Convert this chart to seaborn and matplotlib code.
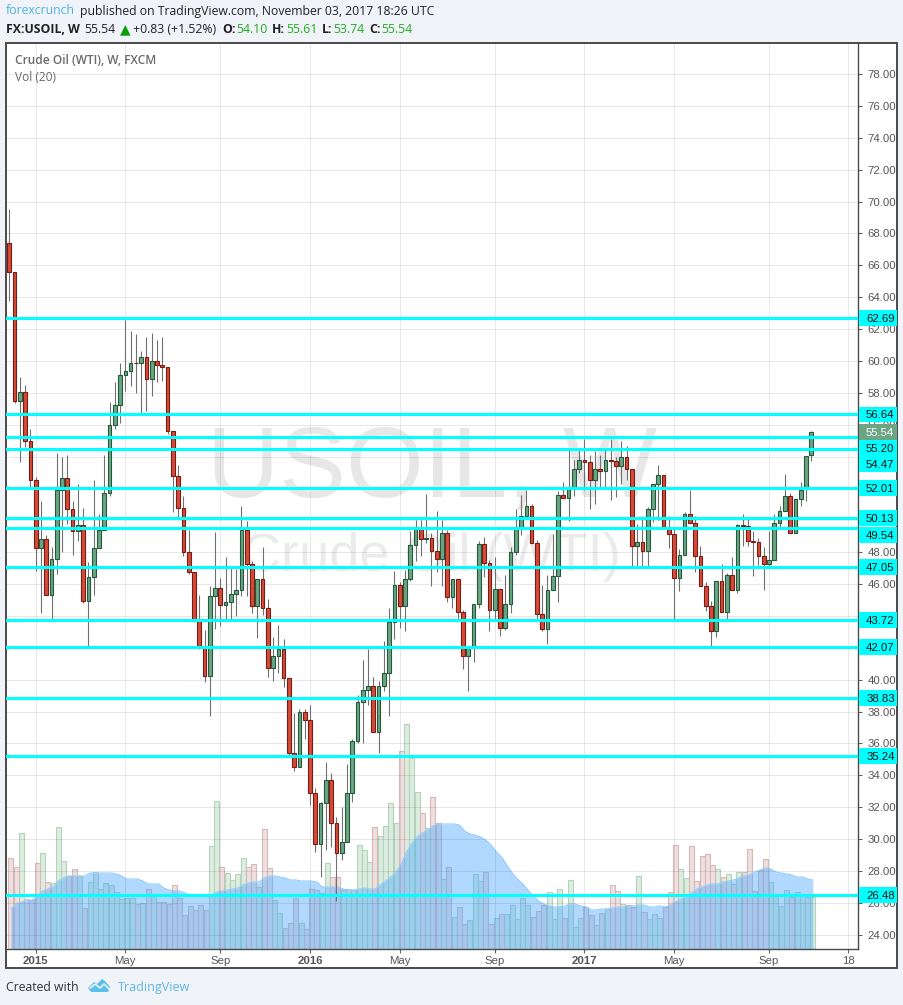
import numpy as np
import pandas as pd
import seaborn as sns
import matplotlib
matplotlib.use("Agg")
import matplotlib.pyplot as plt
from matplotlib.patches import Rectangle, Polygon
from matplotlib.lines import Line2D
from matplotlib import transforms

# weekly candles, Dec 2014 - Oct 2017
opens = [67.39,65.57,57.5,58.06,54.99,52.55,48.26,48.8,45.3,47.6,51.92,52.67,50.7,49.3,49.7,44.93,46.43,48.25,49.4,51.7,
         56,57.25,59.1,59.37,59.87,59.87,60.25,58.87,60,59.75,59.62,55.6,52.8,50.75,48.04,46.75,43.7,42.13,40.23,45.25,
         45.75,44.68,44.87,45.37,45.62,49.38,47.25,44.6,46.3,44.5,40.73,41.5,41.93,40.1,35.4,34.55,38,37.5,32.9,29.7,
         32.26,33.7,31,29.13,29.8,32.9,36.15,38.58,39.34,39.6,36.7,39.6,40.4,43.64,45.97,44.6,46.3,48.48,49.44,48.8,
         48.92,48.1,47.6,49.23,45.22,46.29,44.22,41.47,41.97,44.72,48.54,47.35,44.35,45.66,43.22,44.72,48,49.44,50.3,50.92,
         48.58,44.1,43.16,45.6,46.48,51.6,51.4,51.95,53.2,53.8,53.66,52.5,53.2,53.1,53.8,53.72,53.38,53.97,53.24,48.36,
         48.63,48.1,50.73,52.3,52.87,49.57,49.15,46.4,47.8,50.4,49.85,47.77,45.88,44.6,43.05,46.2,44.27,46.57,45.63,49.72,
         49.62,48.71,48.65,47.77,47.27,47.52,49.85,50.6,51.55,49.2,51.36,52.0,54.1]
closes = [65.57,57.5,58.06,54.99,52.55,48.26,48.8,45.3,47.6,51.92,52.67,50.7,49.3,49.7,44.93,46.43,48.25,49.4,51.7,56,
          57.25,59.1,59.37,59.87,59.85,60.25,58.87,60,59.75,59.62,55.6,52.8,50.75,48.04,46.75,43.7,42.13,40.23,45.25,45.75,
          44.68,44.87,45.37,45.62,49.38,47.25,44.6,46.3,44.5,40.73,41.5,41.93,40.1,35.4,34.55,38,37.5,32.9,29.7,32.26,
          33.7,31,29.13,29.8,32.9,36.15,38.58,39.34,39.6,36.7,39.6,40.4,43.64,45.97,44.6,46.3,48.48,49.44,48.8,48.92,
          48.1,47.6,49.23,45.22,46.29,44.22,41.47,41.97,44.72,48.54,47.35,44.35,45.66,43.22,44.72,48,49.44,50.3,50.92,48.58,
          44.1,43.16,45.6,46.48,51.6,51.4,51.95,53.2,53.8,53.66,52.5,53.2,53.1,53.8,53.72,53.38,53.97,53.24,48.36,48.63,
          48.1,50.73,52.3,52.87,49.57,49.15,46.4,47.8,50.4,49.85,47.77,45.88,44.6,43.05,46.2,44.27,46.57,45.63,49.72,49.62,
          48.71,48.65,47.77,47.27,47.52,49.85,50.6,51.55,49.2,51.36,51.9,54.03,55.54]
highs = [69.5,65.57,59,58.5,55.7,52.7,51.2,49.1,48.3,54.2,53.95,54.1,51.2,52.3,50.75,47.4,52.5,50.4,54.1,57.4,
         58.65,59.85,62.57,61.9,61.7,60.65,61.5,61.77,61.3,61.5,59.62,55.6,53.5,51.5,49.4,46.75,45.33,43.13,45.87,49.27,
         46.4,47.7,47.14,46.93,50.9,49.96,47.46,46.3,48.33,45.08,42.7,43.45,42.57,40.1,37.9,38.15,38.15,38.4,33.2,32.3,
         34.85,34.16,31.4,32.03,34.7,36.3,39.04,41.24,41.9,40.15,39.9,42.42,44.5,46.8,46.16,46.9,49.3,50,50,51.67,
         49.23,50.57,50,49.4,46.29,46.29,44.37,41.97,44.78,48.73,48.98,47.48,47.73,45.66,46.56,48.33,50.73,51.57,51.92,51,
         48.75,45.93,46.54,49.17,51.82,52.4,54.4,53.76,54.4,55.1,54.1,54.35,54.1,54.4,55.13,54,55,54.65,53.24,49.8,
         50.3,50.85,52.3,53.5,52.87,50.3,49.6,48.2,50.5,51.9,50.3,48.4,46.1,44.96,46.2,47.27,46.7,47.73,49.8,50.4,
         50.1,49.35,48.9,48.3,49.3,50.4,50.9,52.9,51.7,51.36,52.4,54.03,55.61]
lows = [63.74,57.35,53.65,54.6,52.1,46.84,44.2,45.3,43.75,46.66,48.04,49.8,47.8,48.7,44.8,42.13,45.33,48.25,49.4,51.5,
        55.7,56.1,58.1,58.4,57.97,56.7,56.85,57.83,58.7,58.77,55.4,50.55,50.1,47.75,46.66,43.6,41.9,39.83,37.75,43.2,
        43.35,43.74,43.74,43.97,45.24,45.24,44.2,42.6,44.07,40.2,39.9,40.4,39.57,35.3,34.3,34.55,36.3,32.15,29.17,27.6,
        29.3,29.5,26.1,28.7,29.8,32.35,36.0,36.0,38.4,36.7,35.4,39.3,37.7,42.55,43.24,43.05,46.2,47.44,47.75,48.6,
        45.9,46.77,45.9,44.85,44.47,43.8,40.65,39.27,41.13,44.47,46.45,43.05,43.8,42.74,43.15,44.16,47.83,49.06,50.3,48.58,
        43.8,43.05,42.24,45.6,44.87,51.4,49.96,51.5,53,51.9,50.7,51,52.1,52,51.25,51.45,52.3,52.5,47.1,47.12,
        47.1,47.1,49.9,50,49.57,48.25,43.8,45.55,47.8,49.85,46.74,45.88,44.3,42.13,42.65,44.27,43.77,45.63,45.42,48.4,
        48.38,46.5,47.2,45.6,47.1,47.52,49.6,50.6,49.2,49.2,50.9,51.2,53.74]

# volume and its 20 week average, read in the height of the pane
volume = [91,82,116,50,49,86,96,67,66,122,88,73,80,73,41,67,77,60,66,64,
          57,50,51,51,45,46,60,55,47,47,45,64,51,34,43,39,44,39,103,148,
          82,76,69,75,91,82,85,62,120,81,49,36,21,26,51,26,20,60,59,56,
          86,72,72,59,60,59,104,99,87,122,113,123,146,126,198,225,191,157,136,121,
          152,126,70,82,32,42,25,29,75,68,77,25,31,35,35,44,30,51,44,32,
          38,44,57,30,60,31,69,22,31,42,34,24,36,40,64,58,45,44,42,73,
          37,30,35,31,42,57,104,80,71,103,68,93,95,84,80,72,75,65,77,77,
          100,58,79,90,67,53,43,59,52,57,55,52,52]
vol_ma = [40,45,47,48,49,53,58,60,62,68,71,73,73,73,73,76,76,76,76,76,
          75,73,70,70,70,68,65,65,65,61,59,58,58,56,54,53,53,52,54,57,
          58,59,60,61,64,66,67,67,71,73,73,72,71,69,69,68,68,68,67,62,
          62,62,62,60,59,59,60,61,60,60,64,68,72,77,85,97,106,112,116,119,
          123,125,125,125,125,124,118,115,114,112,109,104,97,92,84,76,70,65,59,53,
          48,45,43,42,42,43,45,45,43,42,39,39,40,40,41,42,42,43,43,44,
          44,42,42,43,42,44,47,50,53,56,60,62,64,65,65,67,68,69,71,73,
          74,77,79,81,80,77,76,75,74,72,72,70,69]

levels = [62.69,56.64,55.20,54.47,52.01,50.13,49.54,47.05,43.72,42.07,38.83,35.24,26.48]
level_shift = [0,0,-0.66,-0.94,0,0,-0.46,0,0,0,0,0,0]
last_price = 55.54

price_ticks = list(range(24, 80, 2))
# these sit fully behind the level boxes
covered_ticks = [42, 50, 52, 54]
price_labels = ["" if p in covered_ticks else f"{p:.2f}" for p in price_ticks]
time_pos = [5,22,40,57,74,92,109,126,144,159]
time_labels = ["2015","May","Sep","2016","May","Sep","2017","May","Sep","18"]
time_bold = ["2015","2016","2017"]

BG = "#f0f3f7"
W, H = 904, 1005
AX_FONT = "Liberation Sans"
HEAD_FONT = "Open Sans"
AX_SIZE = 8.2

sns.set_theme(style="white")
plt.rcParams["font.family"] = [AX_FONT, "DejaVu Sans"]

fig = plt.figure(figsize=(W/100, H/100), dpi=100, facecolor=BG)

def fx(x):
    return x / W

def fy(y):
    return 1 - y / H

# outer frame
fig.add_artist(Rectangle((fx(6.5), fy(968)), fx(897-6.5), (968-43.5)/H, transform=fig.transFigure,
                         fc="white", ec="#4a4a4a", lw=1.4, zorder=-1))

ax = fig.add_axes([fx(6.5), fy(949), fx(858-6.5), (949-43.5)/H])
ax2 = ax.twinx()
ax.set_zorder(2)
ax2.set_zorder(1)
ax.patch.set_visible(False)
ax2.set_facecolor("white")

# ---- volume pane
df = pd.DataFrame({"week": np.arange(len(volume)) + 0.3, "vol": volume,
                   "up": np.array(closes) >= np.array(opens)})
sns.barplot(data=df[df.up], x="week", y="vol", native_scale=True, color="#dcedde", saturation=1,
            width=0.95, edgecolor="#b4d2bc", linewidth=0.8, zorder=1, ax=ax2)
sns.barplot(data=df[~df.up], x="week", y="vol", native_scale=True, color="#efdfdf", saturation=1,
            width=0.95, edgecolor="#d6baba", linewidth=0.8, zorder=1, ax=ax2)
ax2.fill_between(df.week, 0, vol_ma, color="#4aa8ff", alpha=0.43, lw=0, zorder=2)
sns.lineplot(x=df.week, y=vol_ma, color="#93cdfb", lw=0.8, zorder=3, ax=ax2)

# watermark
ax2.text(0.50, 0.499, "USOIL, W", transform=ax2.transAxes, ha="center", va="baseline",
         fontsize=72, color="#e7e7e7", zorder=0, family=AX_FONT)
ax2.text(0.499, 0.4174, "Crude Oil (WTI)", transform=ax2.transAxes, ha="center", va="baseline",
         fontsize=39, color="#ebebeb", zorder=0, family=AX_FONT)

ax2.set_ylim(0, 905.5)
ax2.set_xlabel("")
ax2.set_ylabel("")
ax2.yaxis.set_visible(False)
ax2.xaxis.set_visible(False)
for s in ax2.spines.values():
    s.set_visible(False)

# ---- candles
weeks = np.arange(len(opens))
o = np.array(opens)
c = np.array(closes)
rising = c >= o
ax.vlines(weeks, lows, highs, color="#707070", lw=0.8, zorder=3)
ax.bar(weeks[rising], (c-o)[rising], bottom=o[rising], width=0.7, color="#6aa584",
       edgecolor="#225a3b", linewidth=0.8, zorder=4)
ax.bar(weeks[~rising], (c-o)[~rising], bottom=o[~rising], width=0.7, color="#d44b38",
       edgecolor="#7a1b14", linewidth=0.8, zorder=4)

# ---- axes
ax.set_xlim(-0.53, 160.86)
ax.set_ylim(78 - (949-74)/15.94, 78 + (74-43.5)/15.94)
ax.yaxis.tick_right()
ax.set_yticks(price_ticks, price_labels)
ax.set_xticks(time_pos, time_labels)
ax.tick_params(axis="y", length=3, width=0.8, color="#666666", pad=4, labelsize=AX_SIZE,
               labelcolor="#555555", right=True, left=False, labelright=True, labelleft=False)
ax.tick_params(axis="x", length=3, width=0.8, color="#666666", pad=2, labelsize=AX_SIZE,
               labelcolor="#555555", bottom=True)
for lab in ax.get_xticklabels():
    if lab.get_text() in time_bold:
        lab.set_fontweight("bold")
ax.grid(True, color="black", alpha=0.09, lw=0.72)
ax.set_axisbelow(True)
for name, s in ax.spines.items():
    s.set_color("#4a4a4a")
    s.set_linewidth(1.0)
    s.set_visible(name in ("bottom", "right"))

# ---- levels with their labels
box_tf = transforms.blended_transform_factory(ax.transAxes, ax.transData)
box_w = (896.5-858.5) / (858-6.5)
for lev, shift in zip(levels, level_shift):
    ax.axhline(lev, color="#00ffff", lw=2.2, zorder=5)
    ax.add_patch(Rectangle((1.0008, lev+shift-0.5), box_w, 1.0, transform=box_tf, fc="#00ffff",
                           lw=0, clip_on=False, zorder=6))
    ax.text(1.0095, lev+shift, f"{lev:.2f}", transform=box_tf, va="center_baseline", ha="left",
            fontsize=AX_SIZE, color="#111111", clip_on=False, zorder=7)
ax.add_patch(Rectangle((1.0008, last_price-0.5), box_w, 1.0, transform=box_tf, fc="#6ba583",
                       lw=0, clip_on=False, zorder=6))
ax.text(1.0095, last_price, f"{last_price:.2f}", transform=box_tf, va="center_baseline", ha="left",
        fontsize=AX_SIZE, color="white", clip_on=False, zorder=7)

# ---- pane titles
fig.text(fx(15), fy(60), "Crude Oil (WTI), W, FXCM", family=HEAD_FONT, fontsize=8.6, color="#6a6a6a",
         fontweight="semibold", va="center", zorder=10)
fig.text(fx(15), fy(77.5), "Vol (20)", family=HEAD_FONT, fontsize=8.6, color="#6a6a6a", va="center", zorder=10)

# ---- header
def head(x, y, s, color="#222222", bold=False, family=HEAD_FONT, size=8.8):
    fig.text(fx(x), fy(y), s, family=family, fontsize=size, color=color, va="center",
             fontweight="bold" if bold else "normal")

GREEN = "#22ab22"
head(6, 11, "forexcrunch", "#4db3e6")
head(80, 11, "published on TradingView.com, November 03, 2017 18:26 UTC")
head(6, 29.5, "FX:USOIL, W", bold=True)
head(84, 29.5, "55.54")
fig.text(fx(119.5), fy(29.5), "\u25B2", family="DejaVu Sans", fontsize=10, color="#0b9e0b", va="center")
head(133, 29.5, "+0.83 (+1.52%)")
head(222, 29.5, "O:", bold=True)
head(236, 29.5, "54.10", GREEN)
head(272, 29.5, "H:", bold=True)
head(286, 29.5, "55.61", GREEN)
head(322, 29.5, "L:", bold=True)
head(333, 29.5, "53.74", GREEN)
head(369, 29.5, "C:", bold=True)
head(381, 29.5, "55.54", GREEN)

# ---- footer
head(6, 987.5, "Created with", "#333333")
logo = [(88,988),(94,982),(97,984),(102,979),(105,981),(110,987),(108,992),(91,992)]
fig.add_artist(Polygon([(fx(a), fy(b)) for a, b in logo], closed=True, transform=fig.transFigure,
                       fc="#5cc0ea", ec="none"))
zigzag = [(90,988),(95,984),(100,988),(104,984),(109,989)]
fig.add_artist(Line2D([fx(a) for a, b in zigzag], [fy(b) for a, b in zigzag], transform=fig.transFigure,
                      color="white", lw=1.0))
head(118, 987.5, "TradingView", "#5cb8e6", size=9)

fig.savefig("out.png", dpi=100, facecolor=BG)
